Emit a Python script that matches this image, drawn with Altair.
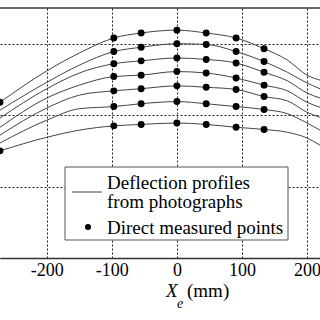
import altair as alt
import pandas as pd

# Positions along the beam (mm) where the profiles were digitised
x_mm = [-272, -200, -150, -97, -55, 0, 45, 91, 134, 170, 200, 220]

# Deflection profiles, one list per load step
profiles = {
    1: [21.8, 26.2, 28.7, 30.8, 31.5, 31.9, 31.5, 30.8, 29.3, 27.7, 25.6, 24.9],
    2: [20.7, 24.6, 27.0, 28.9, 29.5, 30.0, 29.9, 28.9, 27.5, 26.0, 24.5, 23.7],
    3: [19.6, 23.7, 25.9, 27.2, 27.6, 28.0, 27.8, 27.3, 26.0, 24.8, 23.1, 22.4],
    4: [18.3, 22.4, 24.2, 25.4, 25.6, 26.1, 25.9, 25.2, 24.2, 23.4, 21.8, 21.1],
    5: [17.2, 21.0, 22.8, 23.4, 23.7, 24.1, 23.9, 23.6, 22.6, 22.0, 20.4, 19.7],
    6: [16.1, 19.3, 20.9, 21.2, 21.6, 21.9, 21.6, 21.2, 20.8, 20.2, 18.9, 17.9],
    7: [15.0, 16.9, 17.9, 18.5, 18.7, 18.9, 18.7, 18.3, 18.0, 17.6, 16.8, 15.8],
}

# Stations where the deflection was measured directly (mm)
measured_x = [-97, -55, 0, 45, 91, 134]
# Extra measured stations at the far left end, per load step
end_points = {1: -272, 7: -272}

x_ticks = [-200, -100, 0, 100, 200]
y_grid = [0, 5, 10, 15, 20, 25, 30, 35]

line_rows = []
dot_rows = []
for step, vals in profiles.items():
    lookup = dict(zip(x_mm, vals))
    for xv, yv in zip(x_mm, vals):
        line_rows.append({"x": xv, "w": yv, "step": step})
    for xv in measured_x:
        dot_rows.append({"x": xv, "w": lookup[xv], "step": step})
    if step in end_points:
        xe = end_points[step]
        dot_rows.append({"x": xe, "w": lookup[xe], "step": step})

lines_df = pd.DataFrame(line_rows)
dots_df = pd.DataFrame(dot_rows)

SERIF = "Liberation Serif, Times New Roman, serif"
W, H = 320, 250

x_scale = alt.Scale(domain=[-272, 220], nice=False, zero=False)
y_scale = alt.Scale(domain=[0, 35], nice=False, zero=False)

x_enc = alt.X(
    "x:Q",
    scale=x_scale,
    axis=alt.Axis(
        values=x_ticks,
        labelExpr="'' + datum.value",
        grid=True,
        gridDash=[2, 2],
        gridColor="#222",
        gridWidth=1,
        ticks=False,
        domain=True,
        domainColor="#333",
        domainWidth=1.5,
        labelFont=SERIF,
        labelFontSize=18,
        labelColor="#000",
        labelPadding=3,
        labelFlush=False,
        labelOverlap=False,
        title=None,
    ),
)
y_enc = alt.Y(
    "w:Q",
    scale=y_scale,
    axis=alt.Axis(
        values=y_grid,
        grid=True,
        gridDash=[2, 2],
        gridColor="#222",
        gridWidth=1,
        ticks=False,
        labels=False,
        domain=False,
        title=None,
    ),
)

profile_lines = alt.Chart(lines_df).mark_line(
    color="#444", strokeWidth=1, interpolate="monotone", clip=True
).encode(x=x_enc, y=y_enc, detail="step:N")

measured_dots = alt.Chart(dots_df).mark_point(
    shape="circle", filled=True, color="black", size=48, opacity=1
).encode(x="x:Q", y="w:Q")

one = alt.Data(values=[{}])

top_frame = alt.Chart(one).mark_rule(color="#333", strokeWidth=1.5).encode(
    y=alt.value(0), x=alt.value(0), x2=alt.value(W)
)

# Legend box
legend_box = alt.Chart(one).mark_rect(
    fill="white", stroke="#555", strokeWidth=1
).encode(x=alt.value(65), x2=alt.value(288), y=alt.value(159), y2=alt.value(232))

legend_line = alt.Chart(one).mark_rule(color="#444", strokeWidth=1).encode(
    x=alt.value(72), x2=alt.value(102), y=alt.value(184)
)
legend_dot = alt.Chart(one).mark_point(
    shape="circle", filled=True, color="black", size=36, opacity=1
).encode(x=alt.value(88), y=alt.value(219))


def label(text, x, y, size=19, style="normal"):
    return alt.Chart(one).mark_text(
        text=text,
        font=SERIF,
        fontSize=size,
        fontStyle=style,
        color="#000",
        align="left",
        baseline="alphabetic",
    ).encode(x=alt.value(x), y=alt.value(y))


legend_texts = [
    label("Deflection profiles", 107, 181),
    label("from photographs", 107, 200),
    label("Direct measured points", 107, 226),
]

# Axis title: X with subscript e, then the unit
title_parts = [
    label("X", 166, 289, 19, "italic"),
    label("e", 177, 300, 14, "italic"),
    label("(mm)", 187, 289, 19),
]

chart = alt.layer(
    profile_lines,
    measured_dots,
    top_frame,
    legend_box,
    legend_line,
    legend_dot,
    *legend_texts,
    *title_parts,
).properties(
    width=W,
    height=H,
    autosize=alt.AutoSizeParams(type="none"),
    padding={"left": 0, "top": 8, "right": 0, "bottom": 62},
    background="white",
).configure_view(stroke=None)

chart.save("out.html", embed_options={"renderer": "svg", "actions": False})
